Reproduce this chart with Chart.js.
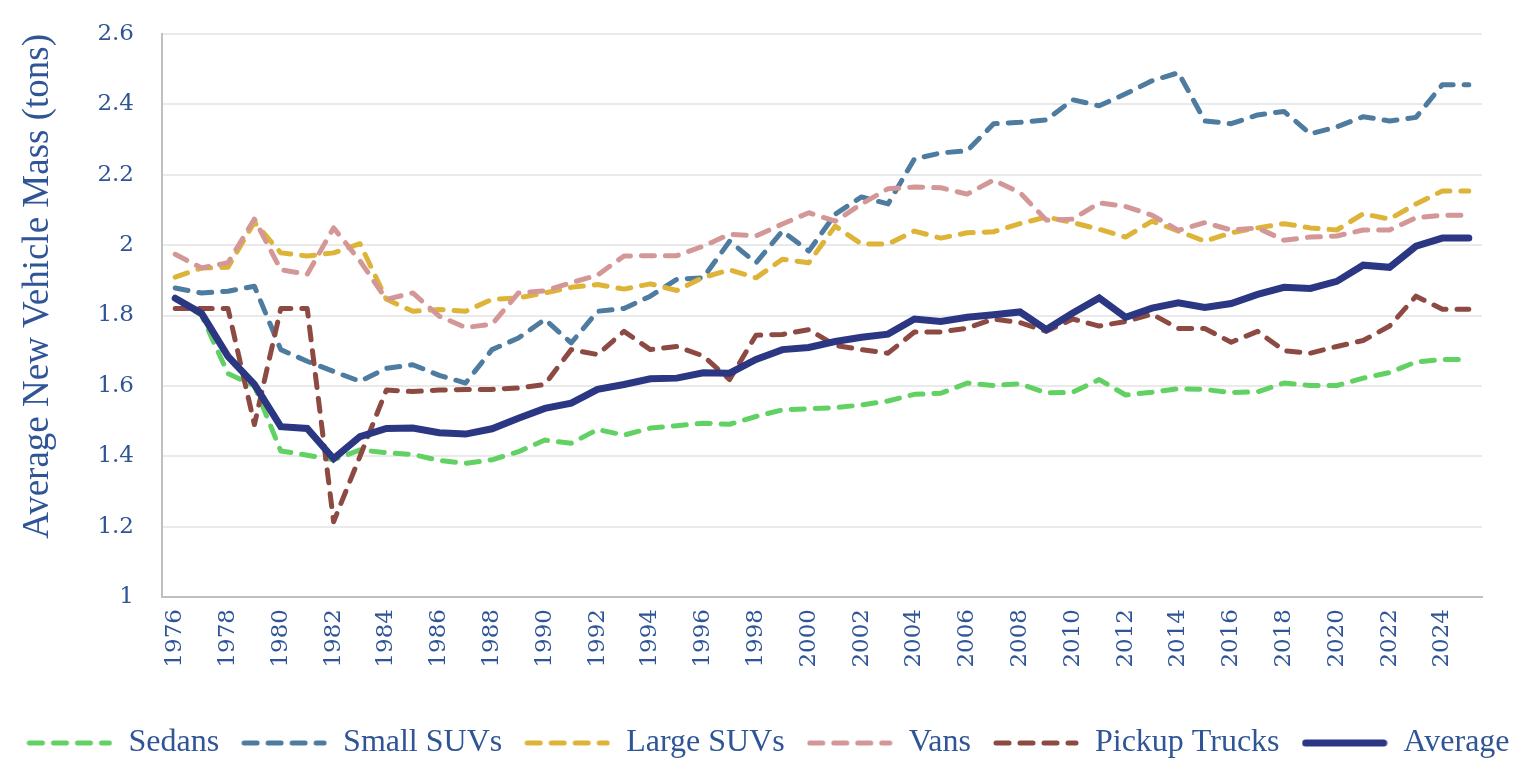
<!DOCTYPE html>
<html>
<head>
<meta charset="utf-8">
<script src="https://cdn.jsdelivr.net/npm/chart.js@4.4.1/dist/chart.umd.min.js"></script>
<style>
  html, body { margin: 0; padding: 0; background: #ffffff; }
  #wrap { width: 1536px; height: 782px; position: relative; }
</style>
</head>
<body>
<div id="wrap"><canvas id="c"></canvas></div>
<script>
const years = [1976,1977,1978,1979,1980,1981,1982,1983,1984,1985,1986,1987,1988,1989,1990,1991,1992,1993,1994,1995,1996,1997,1998,1999,2000,2001,2002,2003,2004,2005,2006,2007,2008,2009,2010,2011,2012,2013,2014,2015,2016,2017,2018,2019,2020,2021,2022,2023,2024,2025];

const sedans = [1.85,1.80,1.635,1.60,1.415,1.403,1.39,1.418,1.41,1.405,
  1.388,1.38,1.39,1.413,1.446,1.437,1.476,1.46,1.48,1.487,
  1.494,1.491,1.513,1.532,1.535,1.538,1.546,1.557,1.576,1.579,
  1.608,1.601,1.606,1.58,1.582,1.618,1.574,1.582,1.592,1.59,
  1.581,1.583,1.608,1.601,1.601,1.622,1.638,1.668,1.675,1.675];

const smallSUVs = [1.878,1.864,1.869,1.883,1.703,1.67,1.641,1.613,1.65,1.66,
  1.63,1.608,1.703,1.736,1.789,1.722,1.812,1.82,1.855,1.903,
  1.907,2.011,1.95,2.04,1.983,2.088,2.137,2.117,2.245,2.262,
  2.268,2.345,2.349,2.356,2.413,2.396,2.43,2.467,2.49,2.353,
  2.345,2.37,2.38,2.316,2.336,2.365,2.353,2.363,2.456,2.456];

const largeSUVs = [1.909,1.935,1.937,2.065,1.978,1.969,1.978,2.004,1.846,1.812,
  1.817,1.812,1.846,1.85,1.864,1.88,1.888,1.875,1.89,1.871,
  1.908,1.93,1.907,1.96,1.95,2.054,2.003,2.003,2.04,2.02,
  2.035,2.038,2.061,2.08,2.064,2.045,2.023,2.068,2.04,2.011,
  2.035,2.049,2.061,2.049,2.043,2.089,2.074,2.117,2.154,2.154];

const vans = [1.974,1.935,1.95,2.074,1.93,1.917,2.049,1.955,1.846,1.864,
  1.798,1.766,1.775,1.864,1.87,1.893,1.915,1.969,1.97,1.97,
  1.997,2.031,2.026,2.06,2.092,2.068,2.117,2.16,2.165,2.163,
  2.145,2.185,2.149,2.071,2.074,2.12,2.11,2.085,2.042,2.064,
  2.043,2.049,2.014,2.023,2.026,2.043,2.043,2.078,2.085,2.085];

const pickupTrucks = [1.82,1.82,1.82,1.49,1.82,1.82,1.214,1.40,1.588,1.584,
  1.588,1.59,1.59,1.594,1.604,1.703,1.689,1.755,1.703,1.712,
  1.685,1.618,1.744,1.746,1.76,1.715,1.703,1.693,1.753,1.753,
  1.764,1.79,1.78,1.755,1.79,1.77,1.783,1.804,1.763,1.763,
  1.724,1.755,1.70,1.693,1.712,1.729,1.77,1.855,1.818,1.818];

const average = [1.849,1.806,1.684,1.604,1.484,1.479,1.393,1.456,1.479,1.48,
  1.467,1.463,1.478,1.508,1.536,1.551,1.59,1.604,1.62,1.622,
  1.637,1.636,1.675,1.703,1.709,1.726,1.738,1.747,1.79,1.783,
  1.795,1.802,1.81,1.76,1.807,1.85,1.795,1.821,1.836,1.823,
  1.834,1.86,1.88,1.877,1.897,1.943,1.937,1.997,2.02,2.02];

const yTicks = [1, 1.2, 1.4, 1.6, 1.8, 2, 2.2, 2.4, 2.6];
const seriesNames = ['Sedans', 'Small SUVs', 'Large SUVs', 'Vans', 'Pickup Trucks', 'Average'];

const TEXT = '#2F5597';
const tickFont = { family: 'DejaVu Serif', size: 23 };
const DASH = [13, 11];
const SAMPLE_W = 86;

function dashed(label, data, color, order) {
  return {
    label, data, order,
    borderColor: color, backgroundColor: color,
    borderWidth: 5, borderDash: DASH, borderCapStyle: 'round',
    borderJoinStyle: 'round',
    pointRadius: 0, pointHoverRadius: 0, tension: 0, fill: false
  };
}

// legend sample line drawn on a small canvas (keeps dashes in the legend)
function legendSample(ds) {
  const cv = document.createElement('canvas');
  cv.width = SAMPLE_W; cv.height = 12;
  const g = cv.getContext('2d');
  g.strokeStyle = ds.borderColor;
  g.lineWidth = ds.borderWidth;
  g.lineCap = 'round';
  if (ds.borderDash) g.setLineDash(ds.borderDash);
  g.beginPath();
  const pad = ds.borderWidth / 2 + 0.5;
  g.moveTo(pad, 6); g.lineTo(SAMPLE_W - pad, 6);
  g.stroke();
  return cv;
}

new Chart(document.getElementById('c'), {
  type: 'line',
  data: {
    labels: years,
    datasets: [
      dashed(seriesNames[0], sedans, '#62D163', 6),
      dashed(seriesNames[1], smallSUVs, '#4E7BA0', 5),
      dashed(seriesNames[2], largeSUVs, '#DDB437', 4),
      dashed(seriesNames[3], vans, '#D49797', 3),
      dashed(seriesNames[4], pickupTrucks, '#8D4A43', 2),
      {
        label: seriesNames[5], data: average, order: 1,
        borderColor: '#2B3782', backgroundColor: '#2B3782',
        borderWidth: 7, borderCapStyle: 'round', borderJoinStyle: 'miter',
        pointRadius: 0, pointHoverRadius: 0, tension: 0, fill: false
      }
    ]
  },
  options: {
    responsive: true,
    maintainAspectRatio: false,
    animation: false,
    layout: { padding: { top: 0, right: 0, left: 0, bottom: 13 } },
    plugins: {
      tooltip: { enabled: false },
      legend: {
        position: 'bottom',
        labels: {
          usePointStyle: true,
          pointStyleWidth: SAMPLE_W,
          boxHeight: 32,
          padding: 22,
          color: TEXT,
          font: { family: 'Liberation Serif', size: 32 },
          generateLabels: (chart) => chart.data.datasets.map((ds, i) => ({
            text: ds.label,
            fillStyle: ds.borderColor,
            strokeStyle: ds.borderColor,
            fontColor: TEXT,
            lineWidth: 0,
            hidden: false,
            pointStyle: legendSample(ds),
            datasetIndex: i
          }))
        }
      }
    },
    scales: {
      x: {
        type: 'category',
        offset: true,
        grid: { display: false, drawTicks: false },
        border: { display: true, color: '#BFBFBF', width: 2 },
        ticks: {
          autoSkip: false,
          minRotation: 90, maxRotation: 90,
          padding: 12,
          color: TEXT,
          font: tickFont,
          callback: function (v, i) { const y = years[i]; return y % 2 === 0 ? String(y) : ''; }
        },
        afterFit: (s) => { s.height = 108; }
      },
      y: {
        min: 1, max: 2.6,
        afterBuildTicks: (s) => { s.ticks = yTicks.map(v => ({ value: v })); },
        grid: { color: '#EAEAEA', lineWidth: 2, drawTicks: false },
        border: { display: true, color: '#BFBFBF', width: 2 },
        ticks: {
          padding: 28,
          color: TEXT,
          font: tickFont,
          callback: (v) => String(+(+v).toFixed(1))
        },
        title: {
          display: true,
          text: 'Average New Vehicle Mass (tons)',
          align: 'end',
          color: TEXT,
          font: { family: 'Liberation Serif', size: 37 },
          padding: { top: 16, bottom: 0 }
        },
        afterFit: (s) => { s.width = 162; s.paddingTop = 34; s.paddingBottom = 0; }
      },
      yRight: {
        position: 'right',
        display: true,
        grid: { display: false, drawTicks: false },
        border: { display: false },
        ticks: { display: false },
        afterFit: (s) => { s.width = 54; s.paddingTop = 0; s.paddingBottom = 0; }
      }
    }
  }
});
</script>
</body>
</html>
